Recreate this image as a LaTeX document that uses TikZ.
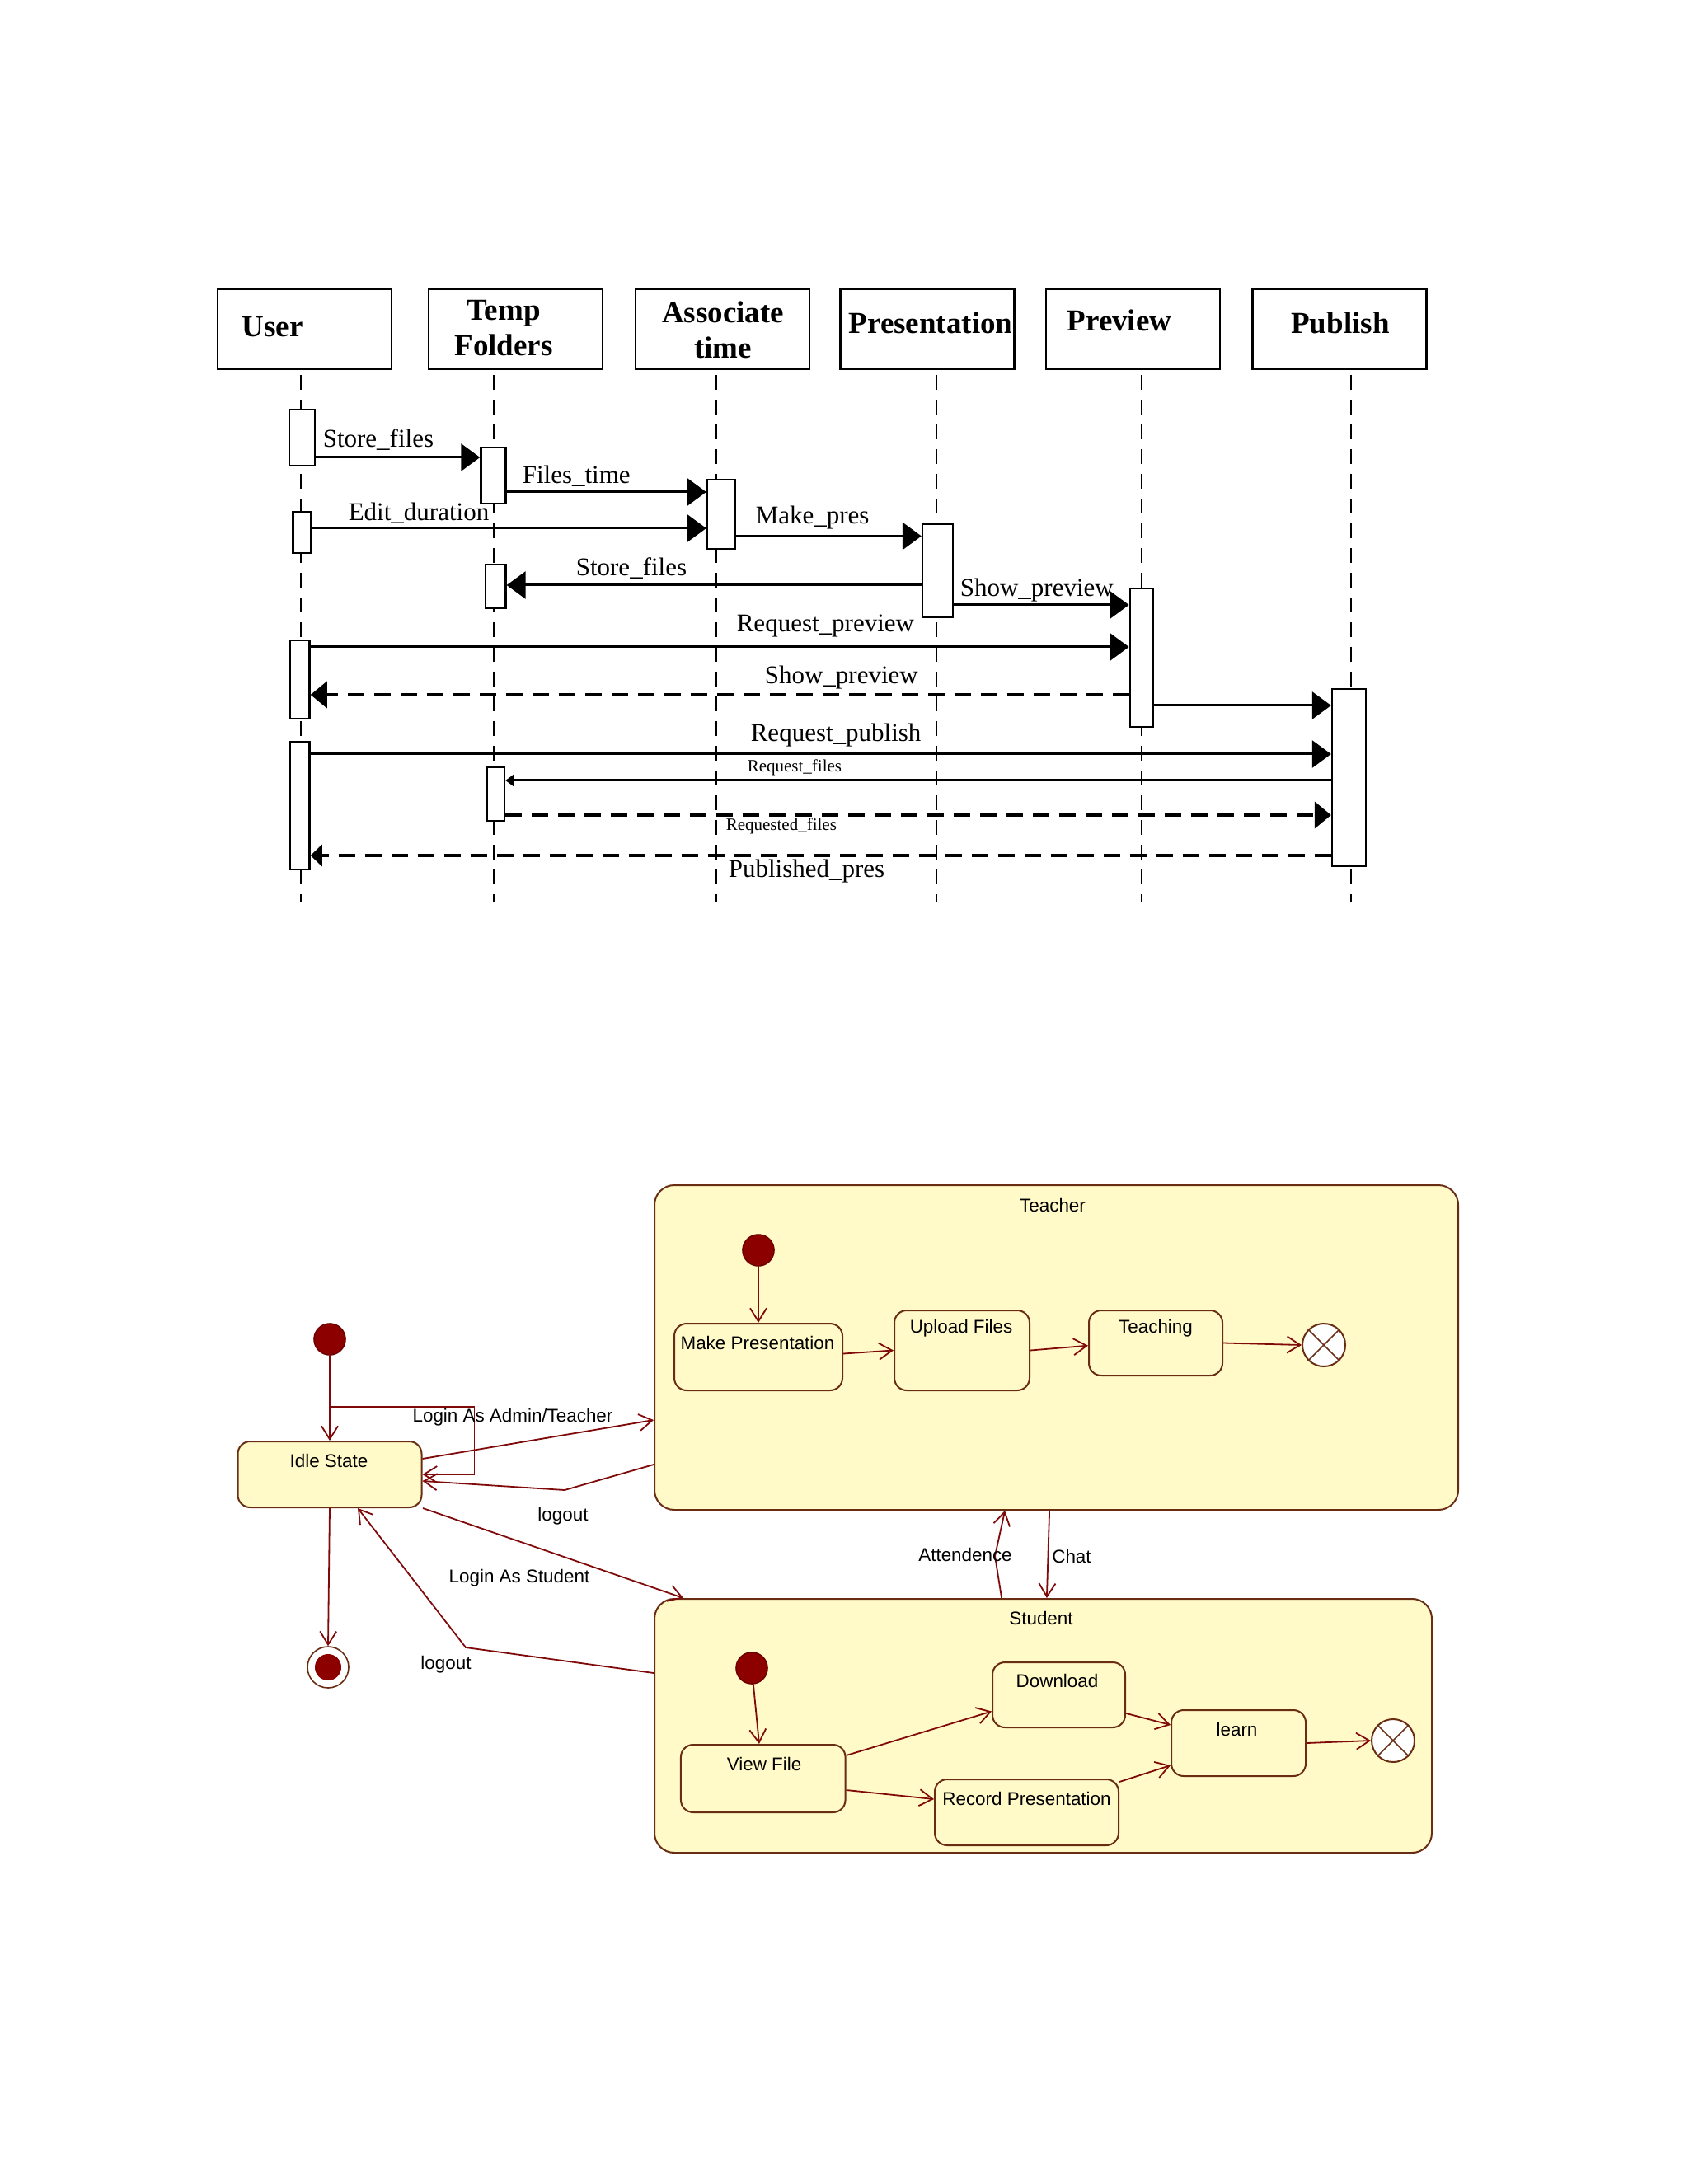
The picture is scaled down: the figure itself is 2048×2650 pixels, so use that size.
\documentclass[tikz,border=0pt]{standalone}
\usepackage{fontspec}
\setmainfont{Liberation Serif}
\newfontfamily\statefont{Liberation Sans}
\usetikzlibrary{arrows.meta}
\definecolor{stfill}{RGB}{255,250,200}
\definecolor{stline}{RGB}{105,45,20}
\definecolor{trline}{RGB}{128,10,10}
\definecolor{dotred}{RGB}{140,0,0}
\tikzset{
  seqbox/.style={draw, line width=0.7pt, minimum width=52.75pt, minimum height=24.25pt, inner sep=0pt, fill=white},
  hdr/.style={font=\fontsize{9.25pt}{10.75pt}\selectfont\bfseries, align=center, inner sep=0pt},
  act/.style={draw, fill=white, line width=0.6pt, inner sep=0pt},
  life/.style={line width=0.45pt, dash pattern=on 4.5pt off 3pt},
  msg/.style={line width=0.75pt, -{Triangle[length=5.75pt,width=8.25pt]}},
  rmsg/.style={line width=1pt, dash pattern=on 5pt off 3pt, -{Triangle[length=5pt,width=8pt]}},
  lbl/.style={font=\fontsize{7.75pt}{9pt}\selectfont, inner sep=0pt, anchor=west},
  tinylbl/.style={font=\fontsize{5.25pt}{6pt}\selectfont, inner sep=0pt, anchor=west},
  stbox/.style={draw=stline, fill=stfill, rounded corners=3.75pt, line width=0.5pt, inner sep=0pt},
  bigbox/.style={draw=stline, fill=stfill, rounded corners=6pt, line width=0.5pt, inner sep=0pt},
  stxt/.style={font=\statefont\fontsize{5.6pt}{6.5pt}\selectfont, inner sep=0pt, text=black},
  tr/.style={draw=trline, line width=0.45pt, -{Straight Barb[length=4pt,width=5pt]}},
  idot/.style={circle, fill=dotred, draw=dotred!80!black, minimum size=9.5pt, inner sep=0pt},
  termnode/.style={circle, draw=stline, fill=white, minimum size=13pt, inner sep=0pt, line width=0.5pt}
}
\begin{document}
\begin{tikzpicture}[x=0.25pt,y=-0.25pt]
\useasboundingbox[fill=white] (0,0) rectangle (2048,2650);

% ---------------- Sequence diagram ----------------
\node[seqbox] (bUser) at (369.5,399.5) {};
\node[seqbox] (bTemp) at (625.5,399.5) {};
\node[seqbox] (bAssoc) at (876.5,399.5) {};
\node[seqbox] (bPres) at (1125,399.5) {};
\node[seqbox] (bPrev) at (1374.5,399.5) {};
\node[seqbox] (bPub) at (1625,399.5) {};

\node[hdr, anchor=west] (hUser) at (293,397) {User};
\node[hdr] (hTemp) at (611,398) {Temp\\Folders};
\node[hdr] (hAssoc) at (877,400) {Associate\\time};
\node[hdr] (hPres) at (1129,392) {Presentation};
\node[hdr] (hPrev) at (1358,389) {Preview};
\node[hdr] (hPub) at (1626,392) {Publish};

% lifelines
\coordinate (lU1) at (365,455);  \coordinate (lU2) at (365,1095);
\coordinate (lT1) at (599,455);  \coordinate (lT2) at (599,1095);
\coordinate (lA1) at (869,455);  \coordinate (lA2) at (869,1095);
\coordinate (lP1) at (1136,455); \coordinate (lP2) at (1136,1095);
\coordinate (lV1) at (1384.5,455); \coordinate (lV2) at (1384.5,1095);
\coordinate (lB1) at (1639,455); \coordinate (lB2) at (1639,1095);
\draw[life] (lU1) -- (lU2);
\draw[life] (lT1) -- (lT2);
\draw[life] (lA1) -- (lA2);
\draw[life] (lP1) -- (lP2);
\draw[life] (lV1) -- (lV2);
\draw[life] (lB1) -- (lB2);

% activation bars
\node[act, minimum width=7.75pt, minimum height=17pt] (uA1) at (366.5,531) {};
\node[act, minimum width=5.5pt, minimum height=12.5pt] (uA2) at (366.5,646) {};
\node[act, minimum width=5.9pt, minimum height=23.75pt] (uA3) at (363.75,824.5) {};
\node[act, minimum width=5.9pt, minimum height=38.75pt] (uA4) at (363.75,977.5) {};
\node[act, minimum width=7.5pt, minimum height=17pt] (tA1) at (598.5,577) {};
\node[act, minimum width=6.1pt, minimum height=13.25pt] (tA2) at (601.25,711.5) {};
\node[act, minimum width=5.25pt, minimum height=16.25pt] (tA3) at (601.5,963.5) {};
\node[act, minimum width=8.5pt, minimum height=21pt] (aA) at (875,624) {};
\node[act, minimum width=9.25pt, minimum height=28.25pt] (pA) at (1137.5,692.5) {};
\node[act, minimum width=7.1pt, minimum height=42pt] (vA) at (1385,798) {};
\node[act, minimum width=10.25pt, minimum height=53.75pt] (bA) at (1636.5,943.5) {};

% message levels
\coordinate (m1) at (0,555);
\coordinate (m2) at (0,597);
\coordinate (m3) at (0,641);
\coordinate (m4) at (0,650.5);
\coordinate (m5) at (0,710);
\coordinate (m6) at (0,734);
\coordinate (m7) at (0,785);
\coordinate (m8) at (0,843);
\coordinate (m9) at (0,856);
\coordinate (m10) at (0,915);
\coordinate (m11) at (0,947);
\coordinate (m12) at (0,989);
\coordinate (m13) at (0,1038);

\draw[msg] (uA1.east |- m1) -- (tA1.west |- m1);
\draw[msg] (tA1.east |- m2) -- (aA.west |- m2);
\draw[msg] (uA2.east |- m3) -- (aA.west |- m3);
\draw[msg] (aA.east |- m4) -- (pA.west |- m4);
\draw[msg] (pA.west |- m5) -- (tA2.east |- m5);
\draw[msg] (pA.east |- m6) -- (vA.west |- m6);
\draw[msg] (uA3.east |- m7) -- (vA.west |- m7);
\draw[rmsg] (vA.west |- m8) -- (uA3.east |- m8);
\draw[msg] (vA.east |- m9) -- (bA.west |- m9);
\draw[msg] (uA4.east |- m10) -- (bA.west |- m10);
\draw[line width=0.75pt, -{Triangle[length=2.5pt,width=3.5pt]}] (bA.west |- m11) -- (tA3.east |- m11);
\draw[rmsg] (tA3.east |- m12) -- (bA.west |- m12);
\draw[line width=1pt, dash pattern=on 5pt off 3pt, -{Triangle[length=3.5pt,width=6.5pt]}] (bA.west |- m13) -- (uA4.east |- m13);

\node[lbl] (t1) at (391,534) {Store\_files};
\node[lbl] (t2) at (633,578) {Files\_time};
\node[lbl] (t3) at (422,623) {Edit\_duration};
\node[lbl] (t4) at (916,628) {Make\_pres};
\node[lbl] (t5) at (698,690) {Store\_files};
\node[lbl] (t6) at (1164,716) {Show\_preview};
\node[lbl] (t7) at (893,760) {Request\_preview};
\node[lbl] (t8) at (927,822) {Show\_preview};
\node[lbl] (t10) at (910,892) {Request\_publish};
\node[tinylbl] (t11) at (906,931) {Request\_files};
\node[tinylbl] (t12) at (880,1002) {Requested\_files};
\node[lbl] (t13) at (883,1057) {Published\_pres};

% ---------------- State diagram ----------------
\node[bigbox, minimum width=243.75pt, minimum height=98.5pt] (teacher) at (1281.5,1635) {};
\node[bigbox, minimum width=235.75pt, minimum height=77pt] (student) at (1265.5,2094) {};
\node[stxt] (teacherT) at (1277,1462) {Teacher};
\node[stxt] (studentT) at (1263,1963) {Student};

\node[stbox, minimum width=55.75pt, minimum height=20pt] (idle) at (400,1789) {};
\node[stxt] (idleT) at (399,1772) {Idle State};
\node[idot] (idot) at (400,1625) {};
\node[circle, draw=stline, fill=white, line width=0.4pt, minimum size=12.5pt, inner sep=0pt] (fin) at (398,2023) {};
\node[circle, fill=dotred, minimum size=8pt, inner sep=0pt] (finIn) at (398,2023) {};

% teacher internals
\node[idot] (tdot) at (920,1517) {};
\node[stbox, minimum width=51pt, minimum height=20.25pt] (mp) at (920,1646.5) {};
\node[stxt] (mpT) at (919,1629) {Make Presentation};
\node[stbox, minimum width=41pt, minimum height=24.25pt] (uf) at (1167,1638.5) {};
\node[stxt] (ufT) at (1166,1612) {Upload Files};
\node[stbox, minimum width=40.5pt, minimum height=19.75pt] (teach) at (1402,1629.5) {};
\node[stxt] (teachT) at (1402,1612) {Teaching};
\node[termnode] (tterm) at (1606,1632) {};
\draw[stline, line width=0.4pt] (tterm.45) -- (tterm.225) (tterm.135) -- (tterm.315);

% student internals
\node[idot] (sdot) at (912,2024) {};
\node[stbox, minimum width=49.9pt, minimum height=20.5pt] (vf) at (925.75,2158) {};
\node[stxt] (vfT) at (927,2140) {View File};
\node[stbox, minimum width=40.25pt, minimum height=19.75pt] (dl) at (1284.5,2056.5) {};
\node[stxt] (dlT) at (1282.5,2039) {Download};
\node[stbox, minimum width=55.75pt, minimum height=20pt] (rp) at (1245.5,2199) {};
\node[stxt] (rpT) at (1245.5,2182) {Record Presentation};
\node[stbox, minimum width=40.75pt, minimum height=20pt] (learn) at (1502.5,2115) {};
\node[stxt] (learnT) at (1500.5,2098) {learn};
\node[termnode] (sterm) at (1690,2112) {};
\draw[stline, line width=0.4pt] (sterm.45) -- (sterm.225) (sterm.135) -- (sterm.315);

% transitions
\coordinate (loopA) at (400,1707);
\draw[tr] (idot) -- (idle.north);
\draw[tr] (loopA) -| ([xshift=15.75pt]idle.east) -- (idle.east);
\draw[tr] ([yshift=4.75pt]idle.east) -- ([yshift=-22pt]teacher.west);
\coordinate (lgT) at (685,1808);
\draw[tr] ([yshift=-35.5pt]teacher.west) -- (lgT) -- ([yshift=-2pt]idle.east);
\draw[tr] ([xshift=28.25pt]idle.south) -- ([xshift=9pt]student.north west);
\coordinate (lgS) at (565,1999);
\draw[tr] ([yshift=16pt]student.west) -- (lgS) -- ([xshift=8.5pt]idle.south);
\draw[tr] (idle.south) -- (fin.north);
\coordinate (attM) at (1207,1888);
\draw[tr] ([xshift=-12.6pt]student.north) -- (attM) -- ([xshift=-15.6pt]teacher.south);
\draw[tr] ([xshift=-2.1pt]teacher.south) -- ([xshift=1.1pt]student.north);

\draw[tr] (tdot) -- (mp.north);
\draw[tr] ([yshift=1pt]mp.east) -- (uf.west);
\draw[tr] (uf.east) -- ([yshift=-0.8pt]teach.west);
\draw[tr] (teach.east) -- (tterm.west);

\draw[tr] (sdot) -- ([xshift=-1.2pt]vf.north);
\draw[tr] ([yshift=7pt]vf.east) -- ([yshift=-5pt]dl.west);
\draw[tr] ([yshift=-3.5pt]vf.east) -- ([yshift=4pt]rp.west);
\draw[tr] ([yshift=-5.6pt]dl.east) -- ([yshift=5.5pt]learn.west);
\draw[tr] ([yshift=9.25pt]rp.east) -- ([yshift=-6.75pt]learn.west);
\draw[tr] (learn.east) -- (sterm.west);

% transition labels
\node[stxt] (lLA) at (622,1720) {Login As Admin/Teacher};
\node[stxt] (lLO1) at (683,1840) {logout};
\node[stxt] (lLS) at (630,1915) {Login As Student};
\node[stxt] (lLO2) at (541,2020) {logout};
\node[stxt] (lAtt) at (1171,1886) {Attendence};
\node[stxt] (lChat) at (1300,1888) {Chat};
\end{tikzpicture}
\end{document}
